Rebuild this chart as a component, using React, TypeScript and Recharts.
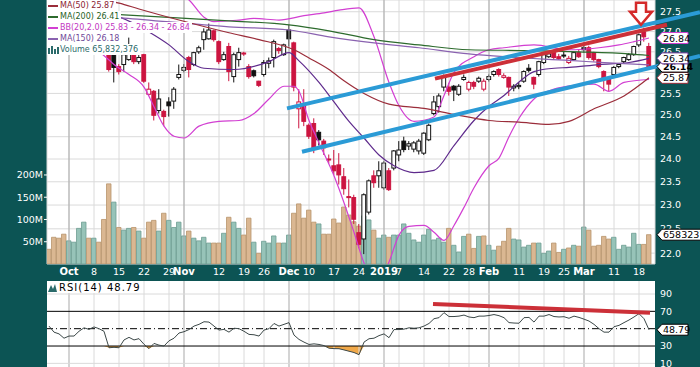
import React from "react";
import {
  Area,
  Bar,
  CartesianGrid,
  Cell,
  ComposedChart,
  Line,
  ReferenceDot,
  ReferenceLine,
  XAxis,
  YAxis,
} from "recharts";

const FONT = '"DejaVu Sans", Verdana, sans-serif';
const BG = "#0c5454";

// day index 0 = Oct 1 2018, one step per trading day, first bar is Sep 25
const FIRST_DAY = -4;
const X_DOMAIN: [number, number] = [-4.4, 117.2];
const PRICE_DOMAIN: [number, number] = [21.78, 27.8];
const VOL_DOMAIN: [number, number] = [0, 593];
const RSI_DOMAIN: [number, number] = [5.8, 105];

// rows of 10 days: -4..5, 6..15, 16..25, ...
const opens = [
  27.7, 27.5, 27.3, 27.2, 26.95, 27.05, 27.15, 27.4, 27.55, 27.2,
  27.3, 27.05, 26.48, 26.48, 26.14, 26.19, 26.31, 26.48, 26.26, 26.43,
  25.48, 25.55, 25.1, 25.08, 25.3, 25.32, 25.88, 26.05, 26.36, 26.19,
  26.5, 26.8, 26.82, 27.02, 26.75, 26.31, 26.63, 25.9, 26.31, 26.47,
  26.14, 26.04, 25.79, 25.95, 26.22, 26.36, 26.58, 26.43, 27.04, 26.72,
  25.14, 25.21, 24.76, 24.8, 24.6, 24.4, 24.0, 23.85, 23.87, 23.61,
  23.18, 23.16, 22.42, 22.29, 22.85, 23.63, 23.63, 23.37, 23.74, 23.8,
  24.09, 24.4, 24.29, 24.22, 24.18, 24.13, 24.43, 25.03, 25.19, 25.65,
  25.65, 25.67, 25.48, 25.83, 25.6, 25.76, 25.79, 25.6, 25.83, 25.95,
  26.07, 25.88, 25.88, 25.63, 25.66, 25.79, 26.1, 25.88, 25.95, 26.24,
  26.38, 26.48, 26.38, 26.4, 26.24, 26.31, 26.48, 26.6, 26.6, 26.48,
  26.31, 26.02, 25.83, 25.95, 26.14, 26.26, 26.31, 26.43, 26.67, 26.99,
  26.63,
];
const highs = [
  27.75, 27.55, 27.4, 27.25, 27.15, 27.2, 27.45, 27.7, 27.6, 27.4,
  27.35, 27.1, 26.55, 26.5, 26.2, 26.48, 26.85, 26.55, 26.42, 26.45,
  25.76, 25.58, 25.6, 25.12, 25.41, 25.65, 26.19, 26.2, 26.4, 26.5,
  26.65, 27.08, 27.2, 27.05, 26.78, 26.5, 26.72, 26.48, 26.6, 26.5,
  26.2, 26.07, 25.8, 26.3, 26.36, 26.8, 26.62, 26.7, 27.17, 26.75,
  25.6, 25.6, 24.8, 24.92, 24.65, 24.45, 24.1, 24.2, 24.13, 23.8,
  23.55, 23.22, 22.6, 23.25, 23.55, 23.75, 23.95, 23.95, 23.8, 24.2,
  24.4, 24.5, 24.4, 24.4, 24.45, 24.6, 24.8, 25.44, 25.5, 25.95,
  25.75, 25.7, 25.72, 25.95, 25.8, 25.8, 25.9, 25.85, 25.95, 26.05,
  26.1, 25.98, 25.9, 25.72, 25.75, 26.05, 26.2, 25.9, 26.28, 26.45,
  26.5, 26.55, 26.45, 26.5, 26.4, 26.5, 26.55, 26.67, 26.65, 26.5,
  26.33, 26.05, 25.9, 26.15, 26.22, 26.38, 26.47, 26.65, 26.95, 27.1,
  26.72,
];
const lows = [
  27.45, 27.2, 27.15, 26.85, 26.9, 26.95, 27.1, 27.35, 27.2, 27.1,
  27.0, 26.6, 26.02, 25.76, 25.95, 26.02, 26.28, 26.2, 26.2, 25.75,
  25.45, 24.87, 25.03, 24.74, 24.96, 25.14, 25.83, 26.0, 25.88, 26.15,
  26.45, 26.55, 26.8, 26.75, 26.2, 26.28, 25.79, 25.76, 26.14, 26.4,
  25.85, 25.88, 25.65, 25.9, 26.1, 26.12, 26.45, 26.4, 26.63, 25.55,
  24.69, 24.74, 24.45, 24.13, 24.3, 24.09, 23.9, 23.65, 23.44, 23.22,
  22.95, 22.6, 22.1, 21.98, 22.8, 23.37, 23.37, 23.33, 23.3, 23.75,
  23.95, 24.15, 24.2, 24.15, 24.1, 24.09, 24.4, 24.99, 25.05, 25.55,
  25.45, 25.32, 25.44, 25.8, 25.55, 25.6, 25.75, 25.55, 25.78, 25.9,
  25.9, 25.85, 25.44, 25.55, 25.6, 25.75, 26.0, 25.6, 25.9, 26.2,
  26.35, 26.3, 26.3, 26.35, 26.2, 26.28, 26.35, 26.48, 26.31, 26.26,
  26.1, 25.55, 25.55, 25.9, 26.1, 26.22, 26.28, 26.4, 26.62, 26.75,
  26.1,
];
const closes = [
  27.55, 27.3, 27.25, 26.9, 27.05, 27.1, 27.4, 27.6, 27.25, 27.35,
  27.1, 26.7, 26.07, 26.12, 26.02, 26.43, 26.48, 26.26, 26.36, 25.79,
  25.6, 24.99, 25.37, 24.96, 25.21, 25.6, 25.95, 26.12, 26.07, 26.48,
  26.6, 26.99, 27.04, 26.8, 26.26, 26.43, 26.02, 26.43, 26.48, 26.45,
  25.9, 25.92, 25.69, 26.24, 26.28, 26.75, 26.53, 26.67, 26.82, 25.65,
  25.3, 24.85, 24.51, 24.25, 24.43, 24.25, 23.98, 23.74, 23.65, 23.35,
  23.16, 22.7, 22.18, 23.22, 23.52, 23.48, 23.74, 23.91, 23.33, 24.18,
  24.2, 24.21, 24.34, 24.36, 24.4, 24.58, 24.76, 25.3, 25.44, 25.88,
  25.55, 25.58, 25.67, 25.88, 25.76, 25.67, 25.86, 25.79, 25.9, 26.02,
  25.95, 25.92, 25.65, 25.67, 25.69, 26.02, 26.05, 25.72, 26.26, 26.43,
  26.45, 26.36, 26.33, 26.42, 26.34, 26.48, 26.38, 26.55, 26.36, 26.31,
  26.14, 25.83, 25.72, 26.12, 26.19, 26.36, 26.43, 26.63, 26.92, 26.87,
  26.14,
];
// millions of shares
const volumes = [
  33, 60, 58, 67, 52, 49, 80, 94, 58, 58,
  49, 100, 180, 139, 82, 76, 80, 82, 74, 58,
  94, 98, 74, 114, 98, 82, 94, 63, 74, 58,
  52, 60, 47, 47, 47, 69, 105, 94, 80, 65,
  103, 49, 24, 51, 47, 63, 47, 47, 65, 114,
  135, 103, 121, 94, 90, 67, 67, 101, 92, 128,
  110, 95, 85, 108, 99, 76, 58, 65, 60, 65,
  65, 90, 69, 54, 49, 65, 78, 54, 58, 49,
  80, 42, 27, 62, 67, 35, 62, 63, 42, 31,
  40, 51, 80, 56, 54, 38, 42, 47, 47, 24,
  29, 47, 26, 33, 36, 42, 40, 83, 76, 40,
  42, 62, 56, 60, 33, 42, 38, 69, 44, 44,
  65.832376,
];
const rsiValues = [
  53, 46, 44, 39, 41.5, 41.5, 47, 51, 49.2, 52,
  50, 47, 28, 28.5, 28, 37, 40, 37, 38.5, 32,
  27, 33, 31, 30, 36, 39, 45, 46.5, 49, 53,
  55, 58, 57.6, 53, 48.4, 49.2, 46, 50.5, 50, 47,
  43.4, 43, 41.5, 48.4, 50, 56, 53, 55, 57, 42.6,
  37.6, 34.5, 31.8, 32.5, 31.8, 30.5, 27.5, 27, 26.9, 25.5,
  24, 22.5, 20, 34.5, 38.4, 39, 42, 44, 39.6, 49,
  49, 49.5, 51, 50.5, 51, 53, 56, 61.5, 62.7, 68.5,
  64, 64, 64.5, 65.7, 63.5, 62.7, 64.5, 64.5, 65.2, 66.3,
  65, 62.7, 57, 56.5, 56.3, 62.7, 63, 57.6, 64.5, 64.5,
  66.3, 64, 63.5, 63.8, 62, 64.5, 63, 61, 58.8, 55,
  50, 46, 46, 52.3, 53.8, 57, 60, 63.5, 67.3, 61.5,
  48.79,
];

// overlays at selected days: [day, value]
const ma50Pts: [number, number][] = [
  [-4, 27.95], [2, 27.85], [10, 27.72], [14, 27.57], [22, 27.29], [32, 26.97], [38, 26.8],
  [45, 26.55], [48, 26.35], [52, 26.07], [55, 25.8], [59, 25.5], [64, 25.25], [71, 25.15],
  [77, 25.01], [84, 24.87], [90, 24.83], [96, 24.78], [100, 24.85], [105, 25.14], [111, 25.44],
  [116, 25.87],
];
const ma200Pts: [number, number][] = [
  [-4, 27.55], [11, 27.42], [32, 27.27], [44, 27.17], [52, 27.02], [61, 26.8], [70, 26.67],
  [80, 26.55], [92, 26.53], [102, 26.5], [112, 26.45], [116, 26.41],
];
const ma150Pts: [number, number][] = [
  [-4, 27.47], [11, 27.34], [32, 27.12], [44, 27.04], [52, 26.87], [61, 26.72], [70, 26.6],
  [80, 26.45], [87, 26.38], [100, 26.29], [108, 26.23], [116, 26.18],
];
const bbMidPts: [number, number][] = [
  [-4, 27.6], [4, 27.5], [10, 27.37], [16, 26.99], [20, 26.67], [24, 26.26], [27, 26.1],
  [33, 26.07], [40, 26.26], [44, 26.48], [46, 26.28], [50, 25.76], [53, 25.3], [56, 24.85],
  [59, 24.47], [62, 24.09], [65, 23.85], [69, 23.7], [73, 23.75], [77, 24.3], [81, 24.87],
  [84, 25.2], [87, 25.45], [90, 25.77], [93, 26.02], [97, 26.1], [100, 26.12], [106, 26.19],
  [112, 26.24], [116, 26.34],
];
const bbUpPts: [number, number][] = [
  [-4, 28.4], [8, 28.3], [16, 28.2], [20, 28.05], [24, 27.8], [27, 27.36], [29, 27.25],
  [34, 27.29], [37, 27.33], [42, 27.29], [47, 27.4], [51, 27.47], [54, 27.54], [58, 27.6],
  [61, 26.87], [64, 25.76], [66, 25.21], [69, 24.85], [73, 24.95], [75, 25.45], [77, 26.0],
  [81, 26.38], [84, 26.55], [87, 26.6], [93, 26.67], [100, 26.55], [106, 26.6], [110, 26.67],
  [113, 26.75], [116, 26.84],
];
const bbLowPts: [number, number][] = [
  [-4, 26.9], [3, 26.75], [8, 26.3], [9, 26.19], [12, 25.95], [15, 25.65], [17, 25.19],
  [19, 24.74], [21, 24.51], [23, 24.47], [26, 24.74], [30, 24.85], [34, 24.87], [37, 25.03],
  [40, 25.37], [43, 25.67], [45, 25.67], [46, 25.55], [48, 24.87], [50, 24.36], [53, 23.63],
  [55, 23.05], [57, 22.43], [59, 21.8], [61, 21.45], [63, 21.6], [64, 21.82], [66, 22.37],
  [68, 22.55], [71, 22.57], [73, 22.43], [75, 22.26], [77, 22.57], [79, 22.95], [81, 23.37],
  [84, 23.85], [86, 24.02], [88, 24.5], [90, 24.92], [93, 25.37], [97, 25.6], [101, 25.69],
  [105, 25.72], [108, 25.55], [111, 25.76], [116, 25.83],
];

// hand-drawn trend lines: [[day, value], [day, value]]
const blueUpper: [number, number][] = [[43.6, 25.15], [126.2, 27.49]];
const blueLower: [number, number][] = [[46.6, 24.16], [126.2, 26.4]];
const redPrice: [number, number][] = [[73.2, 25.85], [119.6, 27.17]];
const redRsi: [number, number][] = [[72.8, 78.5], [116.2, 68.4]];
const arrowAt: [number, number] = [114.4, 27.17];

const priceTicks = [22, 22.5, 23, 23.5, 24, 24.5, 25, 25.5, 26, 26.5, 27, 27.5];
const coveredPriceLabels = [26]; // fully under the value tags
const volTicks = [50, 100, 150, 200];
const rsiTicks = [10, 30, 70, 90]; // 50 sits under the RSI value tag
const dateTicks = [0, 5, 10, 15, 20, 23, 30, 35, 39, 44, 48, 53, 58, 63, 66, 71, 76, 80, 84, 90, 95, 99, 103, 109, 114];
const dateLabels = ["Oct", "8", "15", "22", "29", "Nov", "12", "19", "26", "Dec", "10", "17", "24", "2019", "7", "14", "22", "28", "Feb", "11", "19", "25", "Mar", "11", "18"];
const monthLabels = ["Oct", "Nov", "Dec", "2019", "Feb", "Mar"];
const monthTicks = dateTicks.filter((_, k) => monthLabels.includes(dateLabels[k]));

const colors = {
  up: "#111111",
  down: "#cc1440",
  volUp: "#97c3b8",
  volUpEdge: "#6d9d92",
  volDown: "#dab792",
  volDownEdge: "#b8946c",
  ma50: "#9b2d3a",
  ma200: "#2d6b2d",
  ma150: "#8a62b0",
  bbMid: "#5e2a8c",
  bb: "#d23fd2",
  blue: "#2b9bd6",
  red: "#cc3038",
  rsi: "#3c4848",
  oversold: "#ee9f35",
};

function lookup(points: [number, number][]) {
  const m = new Map(points);
  return (i: number) => m.get(i) ?? null;
}
const last = (points: [number, number][]) => points[points.length - 1][1];

const ma50 = lookup(ma50Pts);
const ma200 = lookup(ma200Pts);
const ma150 = lookup(ma150Pts);
const bbMid = lookup(bbMidPts);
const bbUp = lookup(bbUpPts);
const bbLow = lookup(bbLowPts);

const rows = opens.map((o, k) => {
  const i = FIRST_DAY + k;
  const prev = k ? closes[k - 1] : o;
  return {
    i,
    o,
    h: highs[k],
    l: lows[k],
    c: closes[k],
    up: closes[k] >= prev,
    vol: volumes[k],
    rsi: rsiValues[k],
    rsiLow: [Math.min(rsiValues[k], 30), 30],
    ma50: ma50(i),
    ma200: ma200(i),
    ma150: ma150(i),
    bbMid: bbMid(i),
    bbUp: bbUp(i),
    bbLow: bbLow(i),
  };
});

function Candle(props: any) {
  const { x, y, width, height, payload } = props;
  if (!payload || height == null) return null;
  const { o, h, l, c, up } = payload;
  // price axis is logarithmic, so place open/close in log space inside the high-low bar
  const span = Math.log(h) - Math.log(l) || 1;
  const py = (v: number) => y + (height * (Math.log(h) - Math.log(v))) / span;
  const color = up ? colors.up : colors.down;
  const cx = x + width / 2;
  const top = py(Math.max(o, c));
  const bottom = py(Math.min(o, c));
  return (
    <g>
      <line x1={cx} x2={cx} y1={y} y2={y + height} stroke={color} strokeWidth={1} />
      <rect
        x={cx - 1.9}
        y={top}
        width={3.8}
        height={Math.max(bottom - top, 1)}
        fill={c > o ? "#fff" : color}
        stroke={color}
        strokeWidth={1}
      />
    </g>
  );
}

function DateTick({ x, y, payload }: any) {
  const label = dateLabels[dateTicks.indexOf(payload.value)];
  const bold = monthLabels.includes(label);
  return (
    <text x={x} y={y + 11} textAnchor="middle" fill="#fff" fontFamily={FONT} fontSize={bold ? 10 : 9.5} fontWeight={bold ? 700 : 400}>
      {label}
    </text>
  );
}

function Tag({ cx, cy, text, color, bold, wide }: any) {
  const w = wide ? 50 : 31;
  return (
    <g>
      <path
        d={`M${cx + 2},${cy} L${cx + 7},${cy - 5.5} H${cx + 2 + w} V${cy + 5.5} H${cx + 7} Z`}
        fill="#fff"
        stroke={color}
        strokeWidth={1}
      />
      <text x={cx + 8} y={cy + 3.5} fontFamily={FONT} fontSize={9.5} fontWeight={bold ? 700 : 400} fill="#000">
        {text}
      </text>
    </g>
  );
}

function DownArrow({ cx, cy }: any) {
  const d = `M${cx - 5},${cy - 22} H${cx + 5} V${cy - 13} H${cx + 11} L${cx},${cy} L${cx - 11},${cy - 13} H${cx - 5} Z`;
  return <path d={d} fill="#fff" stroke="#d42a2a" strokeWidth={2.5} />;
}

const seg = (pts: [number, number][]) => pts.map(([x, y]) => ({ x, y }));

const overlays = [
  { key: "bbUp", color: colors.bb, width: 1.2 },
  { key: "bbLow", color: colors.bb, width: 1.2 },
  { key: "bbMid", color: colors.bbMid, width: 1.2 },
  { key: "ma200", color: colors.ma200, width: 1.2 },
  { key: "ma150", color: colors.ma150, width: 1.2 },
  { key: "ma50", color: colors.ma50, width: 1.2 },
];

const fmt = (v: number) => v.toFixed(2);
const legendRows = [
  { label: `MA(50) ${fmt(last(ma50Pts))}`, color: colors.ma50, text: "#8b2332" },
  { label: `MA(200) ${fmt(last(ma200Pts))}`, color: colors.ma200, text: "#1f5f1f" },
  {
    label: `BB(20,2.0) ${fmt(last(bbLowPts))} - ${fmt(last(bbMidPts))} - ${fmt(last(bbUpPts))}`,
    color: colors.bb,
    text: "#c236c2",
  },
  { label: `MA(150) ${fmt(last(ma150Pts))}`, color: colors.ma150, text: "#6f4a98" },
];
const lastVolume = Math.round(volumes[volumes.length - 1] * 1e6);
const lastRsi = rsiValues[rsiValues.length - 1];
const lastClose = closes[closes.length - 1];
const priceTags = [
  { v: last(ma50Pts), color: colors.ma50 },
  { v: lastClose, color: "#000", bold: true },
  { v: last(bbMidPts), color: colors.bbMid },
  { v: last(bbUpPts), color: colors.bb },
];

function PriceChart() {
  return (
    <ComposedChart width={700} height={280} data={rows} margin={{ top: 0, right: 0, bottom: 0, left: 0 }}>
      <XAxis
        xAxisId="c"
        dataKey="i"
        type="number"
        domain={X_DOMAIN}
        allowDataOverflow
        ticks={dateTicks}
        interval={0}
        tick={<DateTick />}
        tickLine={false}
        tickSize={0}
        tickMargin={0}
        axisLine={false}
        height={16}
      />
      <XAxis xAxisId="v" dataKey="i" type="number" domain={X_DOMAIN} allowDataOverflow hide />
      <YAxis
        yAxisId="vol"
        orientation="left"
        width={47}
        type="number"
        domain={VOL_DOMAIN}
        allowDataOverflow
        ticks={volTicks}
        interval={0}
        tickFormatter={(v) => `${v}M`}
        tick={{ fill: "#fff", fontSize: 9.5, fontFamily: FONT }}
        tickSize={3}
        tickMargin={1}
        tickLine={{ stroke: "#fff" }}
        axisLine={false}
      />
      <YAxis
        yAxisId="p"
        orientation="right"
        width={45}
        type="number"
        scale="log"
        domain={PRICE_DOMAIN}
        allowDataOverflow
        ticks={priceTicks}
        interval={0}
        tickFormatter={(v) => (coveredPriceLabels.includes(Number(v)) ? "" : Number(v).toFixed(1))}
        tick={{ fill: "#fff", fontSize: 9.5, fontFamily: FONT }}
        tickLine={false}
        tickSize={4}
        tickMargin={1}
        axisLine={false}
      />
      <CartesianGrid xAxisId="c" yAxisId="p" fill="#fff" stroke="#dadada" />
      {monthTicks.map((t) => (
        <ReferenceLine key={t} xAxisId="c" yAxisId="p" x={t} stroke="#a9a9a9" />
      ))}
      <Bar xAxisId="v" yAxisId="vol" dataKey="vol" barSize={5} isAnimationActive={false}>
        {rows.map((r) => (
          <Cell
            key={r.i}
            fill={r.up ? colors.volUp : colors.volDown}
            stroke={r.up ? colors.volUpEdge : colors.volDownEdge}
            strokeWidth={0.8}
          />
        ))}
      </Bar>
      {overlays.map((s) => (
        <Line
          key={s.key}
          xAxisId="c"
          yAxisId="p"
          dataKey={s.key}
          stroke={s.color}
          strokeWidth={s.width}
          dot={false}
          activeDot={false}
          connectNulls
          type="monotone"
          isAnimationActive={false}
        />
      ))}
      <Bar
        xAxisId="c"
        yAxisId="p"
        dataKey={(r: any) => [r.l, r.h]}
        barSize={5}
        shape={<Candle />}
        isAnimationActive={false}
      />
    </ComposedChart>
  );
}

// same plot area as PriceChart, drawn on top so annotations cover the axis labels
function PriceAnnotations() {
  return (
    <ComposedChart width={700} height={280} data={rows} margin={{ top: 0, right: 45, bottom: 16, left: 47 }}>
      <XAxis xAxisId="c" dataKey="i" type="number" domain={X_DOMAIN} allowDataOverflow hide />
      <YAxis yAxisId="p" type="number" scale="log" domain={PRICE_DOMAIN} allowDataOverflow hide />
      <YAxis yAxisId="vol" type="number" domain={VOL_DOMAIN} allowDataOverflow hide />
      <ReferenceLine xAxisId="c" yAxisId="p" segment={seg(blueUpper)} stroke={colors.blue} strokeWidth={4} ifOverflow="visible" />
      <ReferenceLine xAxisId="c" yAxisId="p" segment={seg(blueLower)} stroke={colors.blue} strokeWidth={4} ifOverflow="visible" />
      <ReferenceLine xAxisId="c" yAxisId="p" segment={seg(redPrice)} stroke={colors.red} strokeWidth={4} ifOverflow="visible" />
      <ReferenceDot
        xAxisId="c"
        yAxisId="p"
        x={arrowAt[0]}
        y={arrowAt[1]}
        ifOverflow="visible"
        shape={(p: any) => <DownArrow cx={p.cx} cy={p.cy} />}
      />
      <ReferenceDot
        xAxisId="c"
        yAxisId="vol"
        x={X_DOMAIN[1]}
        y={volumes[volumes.length - 1]}
        ifOverflow="visible"
        shape={(p: any) => <Tag cx={p.cx} cy={p.cy} text={String(lastVolume)} color="#000" wide />}
      />
      {priceTags.map((t) => (
        <ReferenceDot
          key={t.v}
          xAxisId="c"
          yAxisId="p"
          x={X_DOMAIN[1]}
          y={t.v}
          ifOverflow="visible"
          shape={(p: any) => <Tag cx={p.cx} cy={p.cy} text={fmt(t.v)} color={t.color} bold={t.bold} />}
        />
      ))}
    </ComposedChart>
  );
}

function RsiChart() {
  return (
    <ComposedChart width={700} height={87} data={rows} margin={{ top: 1, right: 0, bottom: 0, left: 47 }}>
      <XAxis dataKey="i" type="number" domain={X_DOMAIN} allowDataOverflow hide />
      <YAxis
        orientation="right"
        width={45}
        type="number"
        domain={RSI_DOMAIN}
        allowDataOverflow
        ticks={rsiTicks}
        interval={0}
        tick={{ fill: "#fff", fontSize: 9.5, fontFamily: FONT }}
        tickLine={false}
        tickSize={4}
        tickMargin={1}
        axisLine={false}
      />
      <CartesianGrid fill="#fff" horizontal={false} vertical={false} />
      {dateTicks.map((t) => (
        <ReferenceLine key={t} x={t} stroke={monthTicks.includes(t) ? "#a9a9a9" : "#dadada"} />
      ))}
      <ReferenceLine y={90} stroke="#dadada" />
      <ReferenceLine y={10} stroke="#dadada" />
      <ReferenceLine y={70} stroke="#000" />
      <ReferenceLine y={30} stroke="#000" />
      <ReferenceLine y={50} stroke="#000" strokeDasharray="7 3 1 3" />
      <Area dataKey="rsiLow" type="linear" fill={colors.oversold} fillOpacity={0.9} stroke="none" isAnimationActive={false} />
      <Line dataKey="rsi" type="linear" stroke={colors.rsi} strokeWidth={1} dot={false} activeDot={false} isAnimationActive={false} />
      <ReferenceLine segment={seg(redRsi)} stroke={colors.red} strokeWidth={4} ifOverflow="visible" />
    </ComposedChart>
  );
}

function RsiAnnotations() {
  return (
    <ComposedChart width={700} height={87} data={rows} margin={{ top: 1, right: 45, bottom: 0, left: 47 }}>
      <XAxis dataKey="i" type="number" domain={X_DOMAIN} allowDataOverflow hide />
      <YAxis type="number" domain={RSI_DOMAIN} allowDataOverflow hide />
      <ReferenceDot
        x={X_DOMAIN[1]}
        y={lastRsi}
        ifOverflow="visible"
        shape={(p: any) => <Tag cx={p.cx} cy={p.cy} text={fmt(lastRsi)} color="#000" />}
      />
    </ComposedChart>
  );
}

const layer = (top: number): React.CSSProperties => ({ position: "absolute", left: 0, top, pointerEvents: "none" });

export default function App() {
  return (
    <div style={{ position: "absolute", left: 0, top: 0, width: 700, height: 367, background: BG, overflow: "hidden" }}>
      <div style={layer(0)}>
        <PriceChart />
      </div>
      <div style={layer(0)}>
        <PriceAnnotations />
      </div>
      <div style={layer(280)}>
        <RsiChart />
      </div>
      <div style={layer(280)}>
        <RsiAnnotations />
      </div>
      <div style={{ position: "absolute", left: 47, top: 0, fontFamily: FONT, fontSize: 8 }}>
        {legendRows.map((r) => (
          <div key={r.label} style={{ display: "flex", alignItems: "center", height: 11, background: "#fff", width: "max-content", paddingRight: 2 }}>
            <span style={{ display: "inline-block", width: 10, height: 2, background: r.color, margin: "0 2px 0 1px" }} />
            <span style={{ color: r.text, lineHeight: "11px", whiteSpace: "nowrap" }}>{r.label}</span>
          </div>
        ))}
        <div style={{ display: "flex", alignItems: "center", height: 11, background: "#fff", width: "max-content", paddingRight: 2 }}>
          <svg width={11} height={9} style={{ marginLeft: 1, marginRight: 1 }}>
            <rect x={0} y={3} width={2} height={6} fill="#2a6a6a" />
            <rect x={3} y={1} width={2} height={8} fill="#2a6a6a" />
            <rect x={6} y={4} width={2} height={5} fill="#2a6a6a" />
            <rect x={9} y={2} width={2} height={7} fill="#2a6a6a" />
          </svg>
          <span style={{ color: "#2a6a6a", lineHeight: "11px", whiteSpace: "nowrap" }}>
            Volume {lastVolume.toLocaleString("en-US")}
          </span>
        </div>
      </div>
      <div style={{ position: "absolute", left: 48, top: 282, display: "flex", alignItems: "center", background: "#fff", fontFamily: FONT, fontSize: 10, letterSpacing: 1, color: "#000" }}>
        <svg width={9} height={9} style={{ marginRight: 2 }}>
          <path d="M0,9 L3,2 L5,6 L7,1 L9,9 Z" fill="#2a6a6a" />
        </svg>
        RSI(14) {lastRsi.toFixed(2)}
      </div>
    </div>
  );
}
